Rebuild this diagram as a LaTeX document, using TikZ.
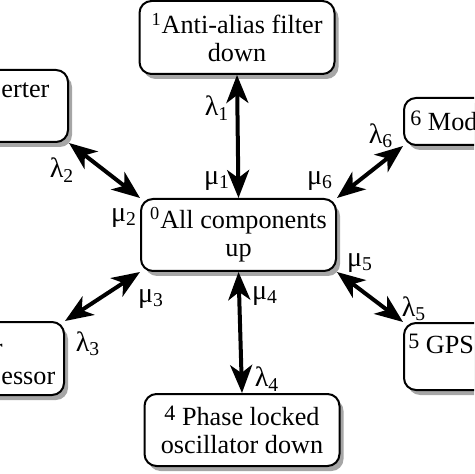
\documentclass[tikz,border=0pt]{standalone}
\usepackage{fontspec}
\setmainfont{Liberation Serif}
\usetikzlibrary{arrows.meta, positioning, shadows}
\newcommand{\stnum}[1]{\raisebox{2.5pt}{\fontsize{11}{11}\selectfont #1}}

\begin{document}
\begin{tikzpicture}[
    x=0.5pt, y=-0.5pt,
    every node/.style={font=\fontsize{13.1}{14}\selectfont},
    statebox/.style={draw, line width=1pt, rounded corners=6pt, fill=white, align=center, inner sep=2pt,
        drop shadow={shadow xshift=2pt, shadow yshift=-2.5pt, fill=black!35, opacity=1},
        minimum width=97.5pt, minimum height=36pt},
    rate/.style={inner sep=0pt, font=\fontsize{14}{14}\selectfont},
    frag/.style={inner sep=0pt},
    biarrow/.style={line width=2pt, {Stealth[length=14pt, width=11pt, inset=4pt]}-{Stealth[length=14pt, width=11pt, inset=4pt]}}
]
\useasboundingbox (0,0) rectangle (474,474);
\clip (0,0) rectangle (474,474);

\node (up) [statebox] at (238.5,235) {\textsuperscript{0}All components\\up};
\node (aaf) [statebox, minimum height=36.5pt] at (237,37.5) {\textsuperscript{1}Anti-alias filter\\down};
\node (pll) [statebox] at (242,430) {\stnum{4} Phase locked\\oscillator down};
\node (conv) [statebox] at (-29.5,106) {};
\node (modem) [statebox, minimum height=23.5pt] at (501.5,121.5) {};
\node (gps) [statebox, minimum height=33.5pt] at (501.5,356.5) {};
\node (proc) [statebox, minimum height=36.5pt] at (-33.5,358.5) {};

\node (convtxt) [frag, anchor=base west] at (1,98) {erter};
\node (proctxt) [frag, anchor=base west] at (1,384) {essor};
\node (proctop) [frag, anchor=base east] at (3,356) {r};
\node (modemtxt) [frag, anchor=base west] at (410,131) {\stnum{6} Mod};
\node (gpstxt) [frag, anchor=base west] at (408,353) {\stnum{5} GPS};

\draw[biarrow] (up.north) -- (aaf.south);
\draw[biarrow] (up.south) -- (pll.north);
\draw[biarrow] (up.north west) -- (conv.south east);
\draw[biarrow] (up.north east) -- (modem.south west);
\draw[biarrow] (up.south west) -- (proc.north east);
\draw[biarrow] (up.south east) -- (gps.north west);

\node (l1) [rate] at (217,108) {λ\textsubscript{1}};
\node (m1) [rate] at (217,181) {μ\textsubscript{1}};
\node (l2) [rate] at (62,170) {λ\textsubscript{2}};
\node (m2) [rate] at (124,218) {μ\textsubscript{2}};
\node (l3) [rate] at (88,344) {λ\textsubscript{3}};
\node (m3) [rate] at (151,299) {μ\textsubscript{3}};
\node (l4) [rate] at (267,379) {λ\textsubscript{4}};
\node (m4) [rate] at (265,296) {μ\textsubscript{4}};
\node (l5) [rate] at (414,309) {λ\textsubscript{5}};
\node (m5) [rate] at (360,263) {μ\textsubscript{5}};
\node (l6) [rate] at (381,136) {λ\textsubscript{6}};
\node (m6) [rate] at (320,181) {μ\textsubscript{6}};
\end{tikzpicture}
\end{document}
